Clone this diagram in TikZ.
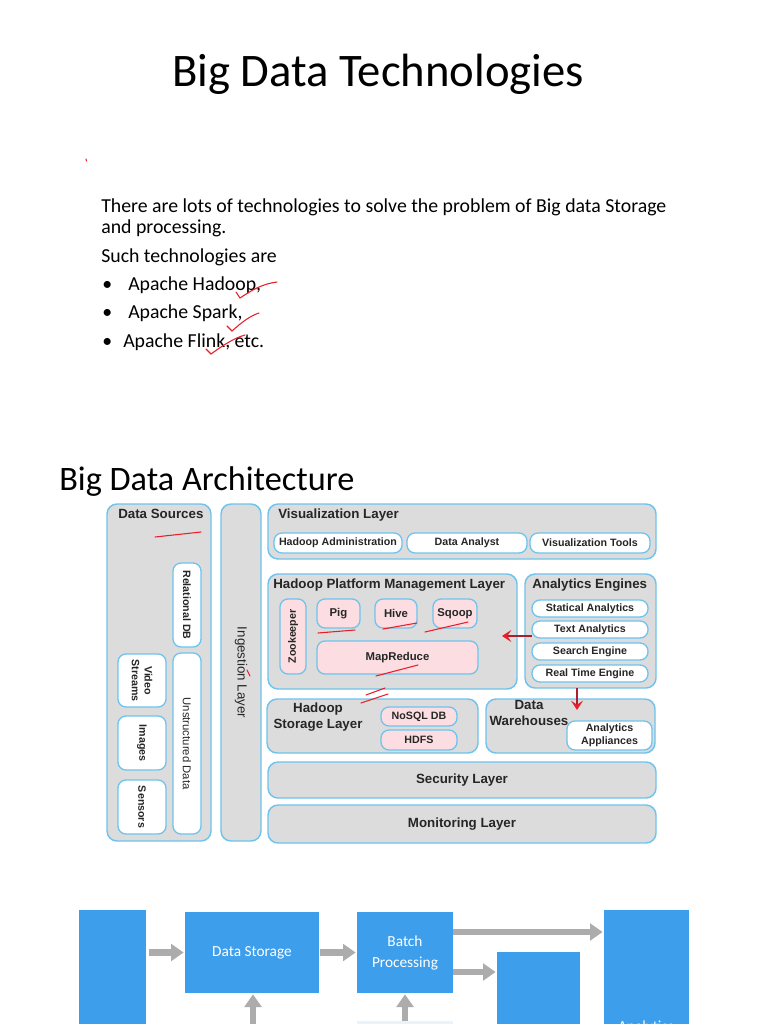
\documentclass[tikz,border=0pt]{standalone}
\usepackage{fontspec}
\setmainfont{Carlito}
\newfontfamily\arial{Liberation Sans}
\usetikzlibrary{arrows.meta}
\definecolor{lgray}{RGB}{220,220,220}
\definecolor{bord}{RGB}{110,196,238}
\definecolor{pinkf}{RGB}{252,222,226}
\definecolor{bblue}{RGB}{61,158,235}
\definecolor{lblue}{RGB}{232,243,252}
\definecolor{garr}{RGB}{172,172,172}
\definecolor{pen}{RGB}{232,30,40}
\definecolor{darkpen}{RGB}{170,30,45}
\newcommand\bx[6]{\node[#2, minimum width={(#5-#3)*0.75pt}, minimum height={(#6-#4)*0.75pt}] (#1) at ({(#3+#5)/2},{(#4+#6)/2}) {};}
\begin{document}
\begin{tikzpicture}[x=0.75pt,y=-0.75pt,
  outer/.style={draw=bord, line width=1.1pt, fill=lgray, rounded corners=7.5pt, inner sep=0pt, outer sep=0pt},
  inbox/.style={draw=bord, line width=1pt, fill=white, rounded corners=6pt, inner sep=0pt, outer sep=0pt},
  pinkbox/.style={inbox, fill=pinkf},
  bluebox/.style={fill=bblue, inner sep=0pt, outer sep=0pt},
  ttl/.style={font=\arial\bfseries\fontsize{10}{12}\selectfont, text=black!85, inner sep=0pt},
  sml/.style={font=\arial\bfseries\fontsize{8}{9.5}\selectfont, text=black!85, inner sep=0pt, align=center},
  rsml/.style={font=\arial\fontsize{8.5}{10}\selectfont, text=black!85, inner sep=0pt, align=center},
  body/.style={font=\fontsize{14.85}{17}\selectfont, anchor=base west, inner sep=0pt},
  wtxt/.style={font=\fontsize{11.5}{15.75}\selectfont, text=white, align=center, inner sep=0pt},
  garrow/.style={draw=garr, line width=5pt, -{Triangle[width=12.5pt,length=9.5pt]}},
  redarr/.style={draw=darkpen, line width=1.1pt, -{Stealth[length=7pt,width=9pt,inset=3pt,color=pen]}},
  penline/.style={draw=pen, line width=0.8pt, line cap=round}
]
\useasboundingbox (0,0) rectangle (768,1024);
\fill[white] (0,0) rectangle (768,1024);

% ---------- text part ----------
\node[font=\fontsize{35}{40}\selectfont, anchor=base, inner sep=0pt] (title) at (378,87) {Big Data Technologies};
\node[body] (l1) at (101,212) {There are lots of technologies to solve the problem of Big data Storage};
\node[body] (l2) at (101,233) {and processing.};
\node[body] (l3) at (101,262) {Such technologies are};
\node[body] (b1) at (102,290) {•};
\node[body] (i1) at (128,290) {Apache Hadoop,};
\node[body] (b2) at (102,318) {•};
\node[body] (i2) at (128,318) {Apache Spark,};
\node[body] (b3) at (102,347) {•};
\node[body] (i3) at (123,347) {Apache Flink, etc.};
\node[font=\fontsize{25.7}{30}\selectfont, anchor=base west, inner sep=0pt] (arch) at (59,490) {Big Data Architecture};

% pen marks on text
\draw[penline] (86,159) -- (86.5,161);
\draw[penline] (236,292) -- (240,298) .. controls (252,290) and (262,284) .. (277,282);
\draw[penline] (227,326) -- (232,331) .. controls (242,322) and (250,316) .. (259,313);
\draw[penline] (206,349) -- (211,354) .. controls (222,346) and (234,338) .. (245,335);

% ---------- architecture ----------
\bx{ds}{outer}{107}{504}{211}{841}
\bx{ing}{outer}{221}{504}{261}{841}
\bx{vis}{outer}{268}{504}{656}{559}
\bx{hpm}{outer}{268}{574}{517}{689}
\bx{ae}{outer}{525}{574}{656}{688}
\bx{hsl}{outer}{267}{699}{478}{753}
\bx{dw}{outer}{486}{699}{655}{753}
\bx{sec}{outer}{268}{762}{656}{798}
\bx{mon}{outer}{268}{805}{656}{843}

\bx{rdb}{inbox}{173}{563}{201}{647}
\bx{uns}{inbox}{173}{653}{201}{834}
\bx{vid}{inbox}{118}{654}{166}{707}
\bx{img}{inbox}{118}{716}{166}{770}
\bx{sen}{inbox}{118}{780}{166}{834}
\bx{had}{inbox}{274}{533}{402}{553}
\bx{dan}{inbox}{407}{533}{527}{553}
\bx{vtl}{inbox}{530}{533}{650}{553}
\bx{zoo}{pinkbox}{280}{599}{306}{674}
\bx{pig}{pinkbox}{317}{599}{360}{628}
\bx{hiv}{pinkbox}{375}{599}{417}{628}
\bx{sqo}{pinkbox}{433}{599}{477}{628}
\bx{mr}{pinkbox}{317}{641}{478}{674}
\bx{sta}{inbox}{532}{600}{648}{617}
\bx{tan}{inbox}{532}{621}{648}{638}
\bx{sea}{inbox}{532}{643}{648}{660}
\bx{rte}{inbox}{532}{665}{648}{682}
\bx{nos}{pinkbox}{381}{707}{457}{726}
\bx{hdf}{pinkbox}{381}{730}{457}{750}
\bx{aap}{inbox}{567}{721}{652}{750}

\node[ttl, anchor=west] at (118,514) {Data Sources};
\node[ttl, anchor=west] at (278,515) {Visualization Layer};
\node[ttl, anchor=west] at (273,585) {Hadoop Platform Management Layer};
\node[ttl, anchor=west] at (532,585) {Analytics Engines};
\node[ttl, align=center] at (318,717) {Hadoop\\Storage Layer};
\node[ttl, align=center] at (529,713) {Data\\Warehouses};
\node[ttl] at (sec) {Security Layer};
\node[ttl] at (mon) {Monitoring Layer};
\node[font=\arial\fontsize{10}{12}\selectfont, text=black!85, inner sep=0pt, rotate=-90] at (ing) {Ingestion Layer};

\node[sml, rotate=-90] at (rdb) {Relational DB};
\node[rsml, rotate=-90] at (uns) {Unstructured Data};
\node[sml, rotate=-90] at (vid) {Video\\Streams};
\node[sml, rotate=-90] at (img) {Images};
\node[sml, rotate=-90] at (sen) {Sensors};
\node[sml, rotate=90] at (zoo) {Zookeeper};
\node[sml] at (had) {Hadoop Administration};
\node[sml] at (dan) {Data Analyst};
\node[sml] at (vtl) {Visualization Tools};
\node[sml, font=\arial\bfseries\fontsize{8.5}{10}\selectfont] at (pig) {Pig};
\node[sml, font=\arial\bfseries\fontsize{8.5}{10}\selectfont] at (hiv) {Hive};
\node[sml, font=\arial\bfseries\fontsize{8.5}{10}\selectfont] at (sqo) {Sqoop};
\node[sml, font=\arial\bfseries\fontsize{8.5}{10}\selectfont] at (mr) {MapReduce};
\node[sml] at (sta) {Statical Analytics};
\node[sml] at (tan) {Text Analytics};
\node[sml] at (sea) {Search Engine};
\node[sml] at (rte) {Real Time Engine};
\node[sml] at (nos) {NoSQL DB};
\node[sml] at (hdf) {HDFS};
\node[sml] at (aap) {Analytics\\Appliances};

\coordinate (r1) at (502,636);
\draw[redarr] (r1 -| tan.west) -- (r1);
\coordinate (r2) at (577,710);
\draw[redarr] (r2 |- ae.south) -- (r2);

% pen marks on diagram
\draw[penline] (155,537) -- (201,532);
\draw[penline] (247,670) -- (250,676);
\draw[penline] (318,633) -- (355,630);
\draw[penline] (383,629) -- (417,623);
\draw[penline] (425,632) -- (468,622);
\draw[penline] (376,676) -- (418,665);
\draw[penline] (366,695) -- (385,688);
\draw[penline] (361,703) -- (388,694);

% ---------- bottom flow ----------
\bx{src}{bluebox}{79}{910}{146}{1040}
\bx{dst}{bluebox}{185}{912}{319}{993}
\bx{bp}{bluebox}{357}{912}{453}{993}
\bx{mid}{bluebox}{497}{952}{580}{1040}
\bx{an}{bluebox}{604}{910}{689}{1040}
\bx{lb}{fill=lblue, inner sep=0pt, outer sep=0pt}{357}{1021}{453}{1040}
\node[wtxt] at (dst) {Data Storage};
\node[wtxt] at (bp) {Batch\\Processing};
\node[wtxt, anchor=base] at (646,1031) {Analytics};

\draw[garrow, shorten <=2pt, shorten >=1pt] (src.east |- dst) -- (dst.west);
\draw[garrow, shorten <=1pt, shorten >=1pt] (dst.east) -- (bp.west);
\coordinate (t1) at (0,932);
\coordinate (t2) at (0,972);
\draw[garrow, shorten >=1pt] (t1 -| bp.east) -- (t1 -| an.west);
\draw[garrow, shorten >=1pt] (t2 -| bp.east) -- (t2 -| mid.west);
\coordinate (u1) at (253,1040);
\draw[garrow, shorten >=1pt] (u1) -- (u1 |- dst.south);
\draw[garrow, shorten >=1pt] (lb.north) -- (bp.south);
\end{tikzpicture}
\end{document}
